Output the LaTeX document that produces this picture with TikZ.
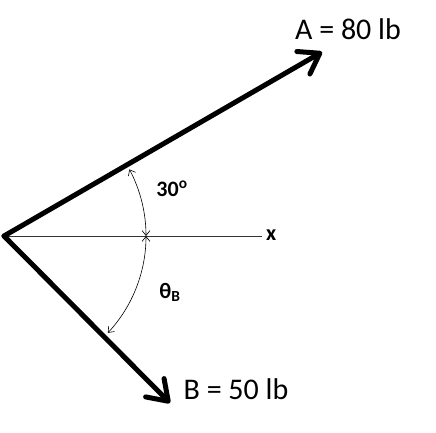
\documentclass[tikz,border=0pt]{standalone}
\usepackage{fontspec}
\setmainfont{Carlito}
\usetikzlibrary{arrows.meta}
\begin{document}
\begin{tikzpicture}[x=1pt,y=1pt,
  force/.style={line width=5pt, line cap=round, line join=round,
    -{Straight Barb[length=19pt, width=26pt, line cap=round, line join=round]}},
  anglearc/.style={line width=0.6pt, {Straight Barb[length=5pt,width=8pt]}-{Straight Barb[length=5pt,width=8pt]}},
  biglabel/.style={font=\fontsize{30}{33}\selectfont, inner sep=0pt},
  smalllabel/.style={font=\fontsize{22}{24}\selectfont\bfseries, inner sep=0pt}]
\useasboundingbox (0,0) rectangle (436,432);
\coordinate (O) at (4,196);
\coordinate (Atip) at (322,380);
\coordinate (Btip) at (170,29);
\coordinate (xend) at (262,196);
\draw[line width=0.8pt, black!80] (O) -- (xend);
\node[smalllabel, anchor=west] (xl) at (266,197) {x};
\draw[force] (O) -- (Atip);
\draw[force] (O) -- (Btip);
\node[biglabel] (Al) at (348,403) {A = 80 lb};
\node[biglabel] (Bl) at (236,43) {B = 50 lb};
\draw[anglearc] ([shift={(28:142)}]O) arc[start angle=28, end angle=0, radius=142];
\draw[anglearc] ([shift={(0:142)}]O) arc[start angle=0, end angle=-43, radius=142];
\node[smalllabel] (t30) at (172,243) {30\textsuperscript{o}};
\node[smalllabel] (tB) at (170,140) {θ\textsubscript{B}};
\end{tikzpicture}
\end{document}
